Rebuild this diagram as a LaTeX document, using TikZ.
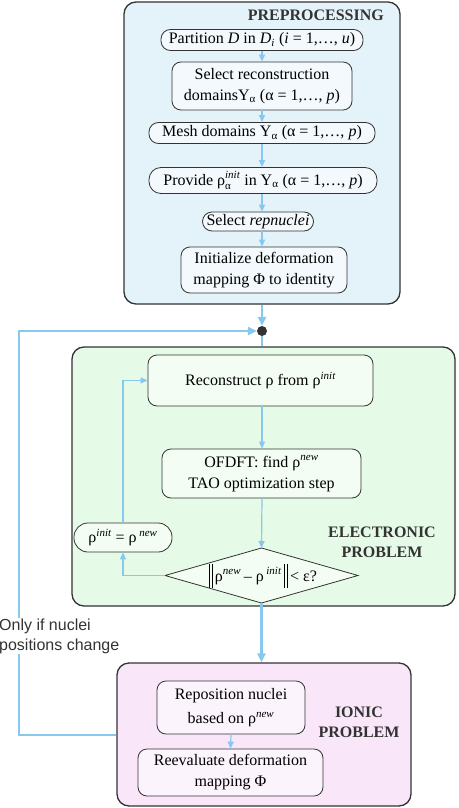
\documentclass[tikz,border=0pt]{standalone}
\usepackage{fontspec}
\setmainfont{Liberation Serif}
\newfontfamily\sansfont{Liberation Sans}
\usetikzlibrary{arrows.meta}
\definecolor{flowblue}{HTML}{88C8EE}
\definecolor{prefill}{HTML}{E4F2F9}
\definecolor{elecfill}{HTML}{E5FBE7}
\definecolor{ionfill}{HTML}{F9E6F9}
\definecolor{edge}{HTML}{333333}
\newcommand{\sps}[1]{\mbox{\fontsize{11}{11}\selectfont #1}}
\newcommand{\rhoit}[1]{ρ$^{\sps{\itshape #1}}$}
\newcommand{\normbar}{\rule[-7pt]{0.7pt}{24pt}\hspace{1.8pt}\rule[-7pt]{0.7pt}{24pt}}
\tikzset{
  frame/.style={draw=edge, line width=1.3pt, rounded corners=12pt, inner sep=0pt},
  stepbox/.style={draw=edge, line width=0.8pt, rounded corners=9pt, align=center, inner sep=0pt,
    font=\fontsize{16}{21}\selectfont},
  pill/.style={stepbox, rounded corners=9.5pt},
  flow/.style={draw=flowblue, line width=2.2pt, -{Triangle[length=9pt,width=8pt]}},
  thinflow/.style={draw=flowblue, line width=1.2pt, -{Triangle[length=7pt,width=6pt]}},
  heading/.style={font=\fontsize{16}{20}\selectfont\bfseries, text=edge, align=center, inner sep=0pt},
}
\begin{document}
\begin{tikzpicture}[x=1pt,y=-1pt]
\useasboundingbox (0,0) rectangle (458,808);
% frames
\node[frame, fill=prefill, minimum width=276pt, minimum height=302pt] (pre) at (262,153) {};
\node[frame, fill=elecfill, minimum width=383pt, minimum height=259pt] (elec) at (263.5,476.5) {};
\node[frame, fill=ionfill, minimum width=294pt, minimum height=143pt] (ionic) at (264,734.5) {};
% preprocessing
\node[heading, anchor=east] (preh) at (384,15) {PREPROCESSING};
\node[pill, fill=white!55!prefill, minimum width=202pt, minimum height=21pt] (part) at (262,40)
  {Partition \textit{D} in \textit{D}$_{\sps{\itshape i}}$ (\textit{i} = 1,\ldots, \textit{u})};
\node[stepbox, fill=white!55!prefill, minimum width=180pt, minimum height=48pt] (selrec) at (262,86)
  {Select reconstruction\\domainsΥ$_{\sps{α}}$ (α = 1,\ldots, \textit{p})};
\node[pill, fill=white!55!prefill, minimum width=226pt, minimum height=21pt] (mesh) at (262,133)
  {Mesh domains Υ$_{\sps{α}}$ (α = 1,\ldots, \textit{p})};
\node[pill, fill=white!55!prefill, minimum width=228pt, minimum height=26pt, rounded corners=12pt] (prov) at (263,180.5)
  {Provide ρ$^{\sps{\itshape init}}_{\sps{α}}$ in Υ$_{\sps{α}}$ (α = 1,\ldots, \textit{p})};
\node[pill, fill=white!55!prefill, minimum width=111pt, minimum height=19pt] (repn) at (258,221.5)
  {Select \textit{repnuclei}};
\node[stepbox, fill=white!55!prefill, minimum width=166pt, minimum height=46pt] (init) at (264,270)
  {Initialize deformation\\mapping Φ to identity};
\draw[thinflow] (part.south -| 262,0) -- (selrec.north -| 262,0);
\draw[thinflow] (selrec.south -| 262,0) -- (mesh.north -| 262,0);
\draw[thinflow] (mesh.south -| 262,0) -- (prov.north -| 262,0);
\draw[thinflow] (prov.south -| 262,0) -- (repn.north -| 262,0);
\draw[thinflow] (repn.south -| 262,0) -- (init.north -| 262,0);
% junction
\node[circle, fill=edge, minimum size=10pt, inner sep=0pt] (dot) at (262,331) {};
\draw[flow] (pre.south -| dot) -- (dot.north);
\draw[draw=flowblue, line width=2.2pt] (dot.south) -- (dot |- elec.north);
% electronic
\node[stepbox, fill=white!55!elecfill, minimum width=225pt, minimum height=51pt] (recon) at (260.5,380.5)
  {Reconstruct ρ from \rhoit{init}};
\node[stepbox, fill=white!55!elecfill, minimum width=199pt, minimum height=49pt] (ofdft) at (261.5,473.5)
  {OFDFT: find \rhoit{new}\\TAO optimization step};
\node[pill, fill=white!55!elecfill, minimum width=98pt, minimum height=29pt, rounded corners=14pt] (rinit) at (123,537.5)
  {\rhoit{init} = ρ\,$^{\sps{\itshape new}}$};
% decision diamond
\coordinate (dN) at (261.5,548);
\coordinate (dS) at (261.5,603);
\coordinate (dW) at (165,575.5);
\coordinate (dE) at (358,575.5);
\draw[draw=edge, line width=0.8pt, fill=white!55!elecfill] (dN) -- (dE) -- (dS) -- (dW) -- cycle;
\node[inner sep=0pt, font=\fontsize{16}{20}\selectfont] (dia) at (263,576)
  {\normbar\,\rhoit{new}\,– ρ\,$^{\sps{\itshape init}}$\,\normbar\,< ε?};
\node[heading] (eh) at (382,542) {ELECTRONIC\\PROBLEM};
\draw[thinflow] (recon.south -| 262,0) -- (ofdft.north -| 262,0);
\draw[thinflow] (ofdft.south -| 262,0) -- (dN);
\draw[thinflow] (dW) -- (rinit.south |- dW) -- (rinit.south);
\draw[thinflow] (rinit.north) -- (rinit.north |- recon.west) -- (recon.west);
% to ionic
\draw[flow] (dS) -- (ionic.north -| dS);
% ionic
\node[stepbox, fill=white!55!ionfill, minimum width=148pt, minimum height=53pt] (repos) at (231,707.5)
  {Reposition nuclei\\[3pt]based on \rhoit{new}};
\node[stepbox, fill=white!55!ionfill, minimum width=185pt, minimum height=47pt] (reeval) at (230.5,772.5)
  {Reevaluate deformation\\mapping Φ};
\node[heading] (ih) at (359,722) {IONIC\\PROBLEM};
\draw[thinflow] (repos.south) -- (reeval.north);
% outer loop
\coordinate (lb) at (19,735);
\coordinate (lt) at (19,331);
\draw[flow] (ionic.west |- lb) -- (lb) -- (lt) -- (dot.west);
\node[fill=white, anchor=west, align=left, inner sep=1pt, font=\sansfont\fontsize{16}{20}\selectfont, text=edge] (only) at (-2,636)
  {Only if nuclei\\positions change};
\end{tikzpicture}
\end{document}
